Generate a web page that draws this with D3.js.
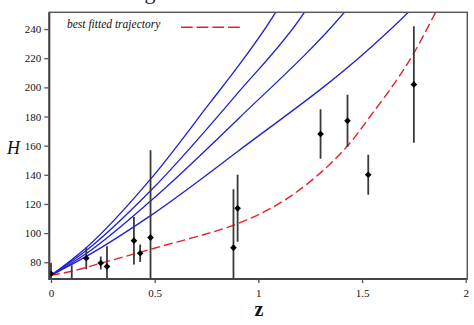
<!DOCTYPE html>
<html>
<head>
<meta charset="utf-8">
<script src="https://cdn.jsdelivr.net/npm/d3@7"></script>
<style>
  html, body { margin: 0; padding: 0; background: #fff; }
  svg { display: block; }
  text { font-family: "Liberation Serif", "DejaVu Serif", serif; }
</style>
</head>
<body>
<svg id="chart" width="474" height="325"></svg>
<script>
// ---- data ----
const obsZ   = [0.0, 0.10, 0.17, 0.24, 0.27, 0.40, 0.43, 0.48, 0.88, 0.90, 1.30, 1.43, 1.53, 1.75];
const obsH   = [72.1, 67, 82.7, 79.5, 77, 94.8, 86.2, 96.9, 90, 117, 168, 177, 140, 202];
const obsErr = [7.6, 11, 7.5, 4.4, 14, 16.3, 6, 60, 40, 23, 17, 18, 13.7, 40];

const fitZ = [0, 0.10, 0.24, 0.48, 0.90, 1.12, 1.305, 1.434, 1.539, 1.667, 1.748, 1.855, 1.90];
const fitH = [71, 73.8, 79.3, 88.9, 106.5, 122, 142, 160.5, 180, 205, 223, 251.5, 264];

const model1Z = [0, 0.17, 0.48, 0.77, 0.90, 1.083, 1.15];
const model1H = [71, 90, 137, 190, 214, 251.5, 268];
const model2Z = [0, 0.17, 0.48, 0.90, 1.222, 1.30];
const model2H = [71, 88, 129, 196, 251.5, 269];
const model3Z = [0, 0.17, 0.48, 0.90, 1.415, 1.50];
const model3H = [71, 86, 122, 178, 251.5, 266];
const model4Z = [0, 0.17, 0.48, 0.90, 1.539, 1.723, 1.80];
const model4H = [71, 84, 112, 156, 227, 251.5, 263];

const xTicks = [0, 0.5, 1, 1.5, 2];
const yTicks = [80, 100, 120, 140, 160, 180, 200, 220, 240];
const legendLabel = "best fitted trajectory";

// ---- drawing ----
const svg = d3.select("#chart");
const box = {l: 49.3, r: 467.3, t: 12.3, b: 279};
const x = d3.scaleLinear().domain([0, 2]).range([51, 465.7]);
const y = d3.scaleLinear().domain([68.5, 251.5]).range([279, 12.3]);

svg.append("defs").append("clipPath").attr("id", "clip")
  .append("rect").attr("x", box.l).attr("y", box.t)
  .attr("width", box.r - box.l).attr("height", box.b - box.t);

// cut-off title fragment at top (the reference shows only its descender)
svg.append("text").attr("x", 150).attr("y", -1).attr("text-anchor", "middle")
  .style("font-size", "22px").attr("fill", "#222").text("g");

const plot = svg.append("g").attr("clip-path", "url(#clip)");

const line = d3.line().x(d => x(d[0])).y(d => y(d[1])).curve(d3.curveMonotoneX);

const models = [[model1Z, model1H], [model2Z, model2H], [model3Z, model3H], [model4Z, model4H]];
models.forEach(([zs, hs]) => {
  plot.append("path")
    .datum(zs.map((z, i) => [z, hs[i]]))
    .attr("d", line)
    .attr("fill", "none")
    .attr("stroke", "#1f1fd6")
    .attr("stroke-width", 1.3);
});

plot.append("path")
  .datum(fitZ.map((z, i) => [z, fitH[i]]))
  .attr("d", line.curve(d3.curveCatmullRom.alpha(0.5)))
  .attr("fill", "none")
  .attr("stroke", "#e3222a")
  .attr("stroke-width", 1.4)
  .attr("stroke-dasharray", "9,4");

// error bars
plot.selectAll("line.err").data(obsZ.map((z, i) => ({z, h: obsH[i], e: obsErr[i]})))
  .enter().append("line").attr("class", "err")
  .attr("x1", d => x(d.z)).attr("x2", d => x(d.z))
  .attr("y1", d => y(d.h - d.e)).attr("y2", d => y(d.h + d.e))
  .attr("stroke", "#3a3a3a").attr("stroke-width", 1.8);

// diamonds
const diamond = d3.symbol().type(d3.symbolSquare).size(22);
plot.selectAll("path.pt").data(obsZ.map((z, i) => ({z, h: obsH[i]})))
  .enter().append("path").attr("class", "pt")
  .attr("d", diamond)
  .attr("transform", d => `translate(${x(d.z)},${y(d.h)}) rotate(45)`)
  .attr("fill", "#000");

// frame
svg.append("rect").attr("x", box.l).attr("y", box.t)
  .attr("width", box.r - box.l).attr("height", box.b - box.t)
  .attr("fill", "none").attr("stroke", "#5a5a5a").attr("stroke-width", 1.5);
svg.append("path")
  .attr("d", `M${box.l},${box.t}V${box.b}H${box.r}`)
  .attr("fill", "none").attr("stroke", "#444").attr("stroke-width", 2);

// axes
const yAxis = svg.append("g").attr("transform", `translate(${box.l},0)`)
  .call(d3.axisLeft(y).tickValues(yTicks).tickSize(5).tickPadding(3).tickFormat(d3.format("d")));
const xAxis = svg.append("g").attr("transform", `translate(0,${box.b})`)
  .call(d3.axisBottom(x).tickValues(xTicks).tickSize(4).tickPadding(6).tickFormat(d => String(d)));
[yAxis, xAxis].forEach(g => {
  g.select(".domain").remove();
  g.selectAll(".tick line").attr("stroke", "#555").attr("stroke-width", 1.3);
  g.selectAll(".tick text").attr("fill", "#111")
    .style("font-family", "'Liberation Serif', serif").style("font-size", "11px");
});

// axis titles
svg.append("text").attr("x", 7).attr("y", 154)
  .style("font-size", "18px").style("font-style", "italic").attr("fill", "#111").text("H");
svg.append("text").attr("x", 259).attr("y", 316).attr("text-anchor", "middle")
  .style("font-size", "20px").style("font-weight", "bold").attr("fill", "#111").text("z");

// legend
svg.append("text").attr("x", 67).attr("y", 28)
  .style("font-size", "11.5px").style("font-style", "italic").attr("fill", "#111").text(legendLabel);
svg.append("line").attr("x1", 181).attr("x2", 240).attr("y1", 27.3).attr("y2", 27.3)
  .attr("stroke", "#e3222a").attr("stroke-width", 1.5).attr("stroke-dasharray", "11.7,4");
</script>
</body>
</html>
